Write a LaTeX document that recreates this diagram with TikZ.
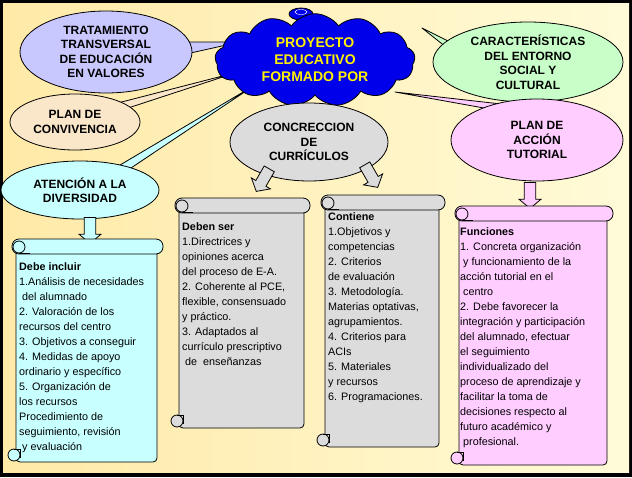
\documentclass[tikz,border=0pt]{standalone}
\usepackage{fontspec}
\setmainfont{Liberation Sans}
\usetikzlibrary{shapes.symbols,shapes.arrows,shapes.geometric}
\definecolor{bgy}{RGB}{255,248,190}
\definecolor{cbl}{RGB}{0,0,235}
\definecolor{lav}{RGB}{200,200,255}
\definecolor{peach}{RGB}{250,230,200}
\definecolor{cyanl}{RGB}{200,255,255}
\definecolor{mint}{RGB}{200,255,200}
\definecolor{grayl}{RGB}{220,220,220}
\definecolor{pinkl}{RGB}{255,205,255}
\tikzset{
 bub/.style={ellipse,draw,thick,font=\fontsize{12}{14.5}\selectfont\bfseries,align=center,inner sep=0pt},
 tailst/.style={draw,thick,line join=round},
 barrow/.style={single arrow,draw,thick,fill=grayl,minimum height=26pt,minimum width=22pt,single arrow head extend=3pt,single arrow tip angle=100,inner sep=3pt},
 stxt/.style={font=\fontsize{10.8}{15}\selectfont,align=left,anchor=north west,inner sep=0pt},
}
\newcommand{\myscroll}[5]{%
 \fill[#5,draw=black,thick,rounded corners=4pt] (#1,#2+8) rectangle (#3-3,#4);
 \fill[#5,draw=black,thick,rounded corners=7pt] (#1-4,#2) rectangle (#3+3,#2+15);
 \draw[thick,fill=#5] (#1+3,#2+8) circle (6pt);
 \draw[thick] (#1+3,#2+14) -- (#1+14,#2+14);
 \draw[thick,fill=#5] (#1-2,#4-7) circle (6pt);
 \draw[thick] (#1-2,#4-13) -- (#1+4,#4-13) -- (#1+4,#4-4);
}
\begin{document}
\begin{tikzpicture}[x=1pt,y=-1pt]
\fill[black] (0,0) rectangle (632,477);
\shade[left color=bgy!80!orange!60!bgy,right color=bgy!60!white] (3,3) rectangle (629,472);
\useasboundingbox (0,0) rectangle (632,477);
% tails
\coordinate (t1) at (240,42); \coordinate (t2) at (238,72);
\coordinate (t3) at (255,85); \coordinate (t4) at (422,28);
\coordinate (t5) at (285,113); \coordinate (t6) at (395,92);
\filldraw[tailst,fill=lav] (160,42) -- (t1) -- (168,58);
\filldraw[tailst,fill=peach] (110,105) -- (t2) -- (122,110);
\filldraw[tailst,fill=cyanl] (115,168) -- (t3) -- (128,170);
\filldraw[tailst,fill=mint] (450,42) -- (t4) -- (456,55);
\filldraw[tailst,fill=grayl] (280,110) -- (t5) -- (300,105);
\filldraw[tailst,fill=pinkl] (495,110) -- (t6) -- (510,105);
% cloud
\draw[thick,fill=cbl] (301,14) ellipse (12pt and 6pt);
\draw[white] (301,12) ellipse (6pt and 2.5pt);
\node[cloud,cloud puffs=13,cloud puff arc=110,aspect=2.6,draw,thick,fill=cbl,minimum width=200pt,minimum height=92pt,
 text=yellow,font=\fontsize{14}{17}\selectfont\bfseries,align=center] (pe) at (315,60) {PROYECTO\\EDUCATIVO\\FORMADO POR};
% bubbles
\node[bub,fill=lav,minimum width=172pt,minimum height=82pt] (tr) at (106,52) {TRATAMIENTO\\TRANSVERSAL\\DE EDUCACIÓN\\EN VALORES};
\node[bub,fill=peach,minimum width=130pt,minimum height=56pt] (pc) at (75,122) {PLAN DE\\CONVIVENCIA};
\node[bub,fill=cyanl,minimum width=158pt,minimum height=58pt] (ad) at (80,190) {ATENCIÓN A LA\\DIVERSIDAD};
\node[bub,fill=mint,minimum width=190pt,minimum height=80pt] (ca) at (528,62) {CARACTERÍSTICAS\\DEL ENTORNO\\SOCIAL Y\\CULTURAL};
\node[bub,fill=grayl,minimum width=158pt,minimum height=78pt] (cc) at (309,142) {CONCRECCION\\DE\\CURRÍCULOS};
\node[bub,fill=pinkl,minimum width=172pt,minimum height=82pt] (pa) at (537,140) {PLAN DE\\ACCIÓN\\TUTORIAL};
% block arrows
\node[barrow,fill=cyanl,rotate=-90] (a1) at (90,228) {};
\node[barrow,rotate=-120] (a2) at (264,178) {};
\node[barrow,rotate=-60] (a3) at (370,174) {};
\node[barrow,fill=pinkl,rotate=-90] (a4) at (530,193) {};
% scrolls
\myscroll{16}{239}{160}{462}{cyanl}
\myscroll{179}{198}{307}{428}{grayl}
\myscroll{325}{195}{442}{447}{grayl}
\myscroll{459}{206}{610}{465}{pinkl}
\node[stxt] (s1) at (19,262) {\textbf{Debe incluir}\\1.Análisis de necesidades\\\ del alumnado\\2. Valoración de los\\recursos del centro\\3. Objetivos a conseguir\\4. Medidas de apoyo\\ordinario y específico\\5. Organización de\\los recursos\\Procedimiento de\\seguimiento, revisión\\\ y evaluación};
\node[stxt] (s2) at (182,222) {\textbf{Deben ser}\\1.Directrices y\\opiniones acerca\\del proceso de E-A.\\2. Coherente al PCE,\\flexible, consensuado\\y práctico.\\3. Adaptados al\\currículo prescriptivo\\\ de \ enseñanzas};
\node[stxt] (s3) at (328,212) {\textbf{Contiene}\\1.Objetivos y\\competencias\\2. Criterios\\de evaluación\\3. Metodología.\\Materias optativas,\\agrupamientos.\\4. Criterios para\\ACIs\\5. Materiales\\y recursos\\6. Programaciones.};
\node[stxt] (s4) at (460,227) {\textbf{Funciones}\\1. Concreta organización\\\ y funcionamiento de la\\acción tutorial en el\\\ centro\\2. Debe favorecer la\\integración y participación\\del alumnado, efectuar\\el seguimiento\\individualizado del\\proceso de aprendizaje y\\facilitar la toma de\\decisiones respecto al\\futuro académico y\\\ profesional.};
\end{tikzpicture}
\end{document}
